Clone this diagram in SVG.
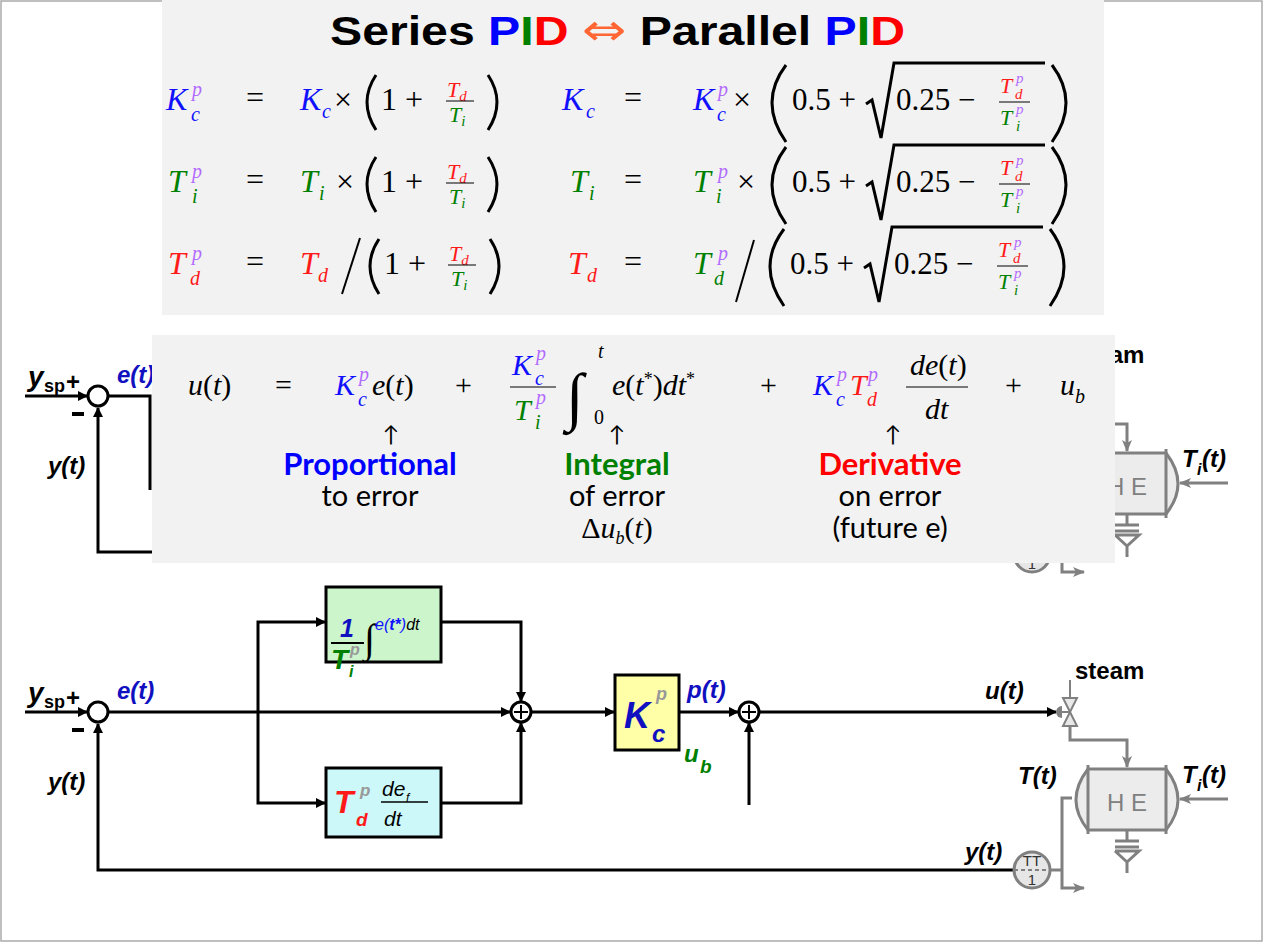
<svg xmlns="http://www.w3.org/2000/svg" width="1266" height="944" viewBox="0 0 1266 944">
<style>
.lbl{font-family:"Liberation Sans",Arial,sans-serif;font-weight:bold;font-style:italic}
.m{font-family:"Liberation Serif","DejaVu Serif",serif;font-style:italic}
.mr{font-family:"Liberation Serif","DejaVu Serif",serif}
.s{font-family:"Liberation Serif","DejaVu Serif",serif;font-style:italic}
.fs{font-family:"Liberation Serif","DejaVu Serif",serif;font-style:italic}
.ln{stroke:#000;stroke-width:3;fill:none}
.gr{stroke:#808080;stroke-width:3;fill:none}
.sans{font-family:"Lato","Liberation Sans",sans-serif;text-anchor:middle}
.b{fill:#1010ff}.g{fill:#008000}.r{fill:#ff1a1a}.v{fill:#b36bff}
</style>
<defs>
<marker id="ah" markerWidth="10" markerHeight="10" refX="9" refY="5" orient="auto" markerUnits="userSpaceOnUse"><path d="M0,0 L10,5 L0,10 z" fill="#000"/></marker>
<marker id="ag" markerWidth="12" markerHeight="10" refX="11" refY="5" orient="auto" markerUnits="userSpaceOnUse"><path d="M0,0 L12,5 L0,10 L3,5 z" fill="#808080"/></marker>
<g id="process">
<line x1="1070" y1="680" x2="1070" y2="698" stroke="#808080" stroke-width="2"/>
<path d="M1063,698 L1077,698 L1070,712 z M1063,726 L1077,726 L1070,712 z" fill="#e8e8e8" stroke="#808080" stroke-width="2"/>
<path d="M1062,706 A6,6 0 0 0 1062,718 z" fill="#808080"/>
<line x1="1062" y1="712" x2="1070" y2="712" stroke="#808080" stroke-width="2"/>
<path d="M1070,726 L1070,740 L1127,740 L1127,767" class="gr" marker-end="url(#ag)"/>
<path d="M1088,769 L1166,769 Q1190,800 1166,830 L1088,830 Q1064,800 1088,769 z" fill="#ececec" stroke="#808080" stroke-width="3"/>
<line x1="1088" y1="765" x2="1088" y2="834" class="gr"/>
<line x1="1166" y1="765" x2="1166" y2="834" class="gr"/>
<text x="1127" y="811" font-family="Liberation Sans,sans-serif" font-size="24" fill="#808080" text-anchor="middle">H E</text>
<line x1="1228" y1="799" x2="1180" y2="799" class="gr" marker-end="url(#ag)"/>
<path d="M1127,830 L1127,841 M1115,841 L1139,841 M1115,847 L1139,847 M1115,851 L1139,851 L1127,862 L1115,851 M1127,862 L1127,873" class="gr" stroke-width="2.5"/>
<path d="M1072,798 L1062,798 L1062,888 L1084,888" class="gr" stroke-width="2.5" marker-end="url(#ag)"/>
<circle cx="1032" cy="870" r="18" fill="#e6e6e6" stroke="#808080" stroke-width="3"/>
<line x1="1014" y1="870" x2="1050" y2="870" stroke="#808080" stroke-width="2" stroke-dasharray="4,3"/>
<line x1="1050" y1="870" x2="1062" y2="870" class="gr" stroke-width="2.5"/>
<text x="1032" y="866" font-family="Liberation Sans,sans-serif" font-size="15" text-anchor="middle" fill="#333">TT</text>
<text x="1032" y="885" font-family="Liberation Sans,sans-serif" font-size="15" text-anchor="middle" fill="#333">1</text>
<text x="1075" y="679" font-family="Liberation Sans,sans-serif" font-weight="bold" font-size="24">steam</text>
<text x="1018" y="784" class="lbl" style="font-size:24px">T(t)</text>
<text x="1182" y="783" class="lbl" style="font-size:24px">T</text><text x="1197" y="791" class="lbl" style="font-size:16px">i</text><text x="1202" y="783" class="lbl" style="font-size:24px">(t)</text>
</g>
</defs>
<rect x="1" y="1" width="1261" height="940" fill="#fff" stroke="#aaa" stroke-width="1.5"/>

<g id="series-bg">
<use href="#process" transform="translate(0,-316)"/>
<text x="28" y="386" class="lbl" style="font-size:28px">y</text><text x="44" y="392" font-family="Liberation Sans,sans-serif" font-weight="bold" font-size="18">sp</text>
<text x="66" y="390" font-family="Liberation Sans,sans-serif" font-weight="bold" font-size="24">+</text>
<rect x="72" y="412" width="12" height="4" fill="#000"/>
<text x="117" y="383" class="lbl" style="font-size:24px" fill="#1010c0">e(t)</text>
<text x="48" y="474" class="lbl" style="font-size:24px">y(t)</text>
<circle cx="98" cy="396" r="10" fill="#fff" stroke="#000" stroke-width="3"/>
<g class="connectors">
<line x1="25" y1="396" x2="87" y2="396" class="ln" marker-end="url(#ah)"/>
<path d="M108,396 L150,396 L150,490" class="ln"/>
<path d="M160,552 L98,552 L98,408" class="ln" marker-end="url(#ah)"/>
</g>
</g>

<g id="connectors">
<line x1="25" y1="712" x2="87" y2="712" class="ln" marker-end="url(#ah)"/>
<line x1="108" y1="712" x2="510" y2="712" class="ln" marker-end="url(#ah)"/>
<path d="M258,712 L258,622 L325,622" class="ln" marker-end="url(#ah)"/>
<path d="M258,712 L258,803 L325,803" class="ln" marker-end="url(#ah)"/>
<path d="M441,622 L521,622 L521,701" class="ln" marker-end="url(#ah)"/>
<path d="M441,803 L521,803 L521,723" class="ln" marker-end="url(#ah)"/>
<line x1="531" y1="712" x2="614" y2="712" class="ln" marker-end="url(#ah)"/>
<line x1="679" y1="712" x2="738" y2="712" class="ln" marker-end="url(#ah)"/>
<line x1="749" y1="805" x2="749" y2="723" class="ln" marker-end="url(#ah)"/>
<line x1="759" y1="712" x2="1056" y2="712" class="ln" marker-end="url(#ah)"/>
<path d="M1014,870 L98,870 L98,724" class="ln" marker-end="url(#ah)"/>
</g>
<use href="#process"/>
<g id="sum1"><circle cx="98" cy="712" r="10" fill="#fff" stroke="#000" stroke-width="3"/></g>
<g id="sum2"><circle cx="521" cy="712" r="10" fill="#fff" stroke="#000" stroke-width="3"/><path d="M514,712 H528 M521,705 V719" stroke="#000" stroke-width="2"/></g>
<g id="sum3"><circle cx="749" cy="712" r="10" fill="#fff" stroke="#000" stroke-width="3"/><path d="M742,712 H756 M749,705 V719" stroke="#000" stroke-width="2"/></g>
<text x="28" y="702" class="lbl" style="font-size:28px">y</text><text x="44" y="708" font-family="Liberation Sans,sans-serif" font-weight="bold" font-size="18">sp</text>
<text x="66" y="706" font-family="Liberation Sans,sans-serif" font-weight="bold" font-size="24">+</text>
<rect x="72" y="728" width="12" height="4" fill="#000"/>
<text x="117" y="699" class="lbl" style="font-size:24px" fill="#1010c0">e(t)</text>
<text x="48" y="790" class="lbl" style="font-size:24px">y(t)</text>
<text x="965" y="860" class="lbl" style="font-size:24px">y(t)</text>
<text x="985" y="699" class="lbl" style="font-size:24px">u(t)</text>
<text x="687" y="698" class="lbl" style="font-size:24px" fill="#1010c0">p(t)</text>
<text x="684" y="762" class="lbl" style="font-size:24px" fill="#008000">u</text><text x="700" y="773" class="lbl" style="font-size:19px" fill="#008000">b</text>

<g id="integral-block">
<rect x="326" y="587" width="115" height="75" fill="#ccf5cc" stroke="#000" stroke-width="3"/>
<text x="340" y="637" class="lbl" style="font-size:25px" fill="#1010c0">1</text>
<line x1="331" y1="643" x2="364" y2="643" stroke="#000" stroke-width="2"/>
<text x="331" y="669" class="lbl" style="font-size:28px" fill="#008000">T</text>
<text x="350" y="655" class="lbl" style="font-size:16px" fill="#999">p</text>
<text x="349" y="677" class="lbl" style="font-size:16px" fill="#008000">i</text>
<text x="364" y="652" class="m" style="font-size:40px">∫</text>
<text x="375" y="630" font-family="Liberation Sans,sans-serif" font-style="italic" font-size="16" fill="#1010ff">e(<tspan font-weight="bold">t*</tspan>)<tspan fill="#000">dt</tspan></text>
</g>
<g id="derivative-block">
<rect x="326" y="768" width="115" height="69" fill="#ccf8fa" stroke="#000" stroke-width="3"/>
<text x="334" y="813" class="lbl" style="font-size:32px" fill="#ff1a1a">T</text>
<text x="360" y="796" class="lbl" style="font-size:17px" fill="#999">p</text>
<text x="356" y="826" class="lbl" style="font-size:19px" fill="#ff1a1a">d</text>
<text x="382" y="796" font-family="Liberation Sans,sans-serif" font-style="italic" font-size="21">de</text>
<text x="406" y="802" font-family="Liberation Sans,sans-serif" font-style="italic" font-size="12">f</text>
<line x1="381" y1="802" x2="428" y2="802" stroke="#000" stroke-width="1.5"/>
<text x="384" y="826" font-family="Liberation Sans,sans-serif" font-style="italic" font-size="21">dt</text>
</g>
<g id="kc-block">
<rect x="615" y="675" width="64" height="75" fill="#ffffa8" stroke="#000" stroke-width="3"/>
<text x="624" y="728" class="lbl" style="font-size:36px" fill="#1010c0">K</text>
<text x="656" y="700" class="lbl" style="font-size:18px" fill="#999">p</text>
<text x="652" y="742" class="lbl" style="font-size:24px" fill="#1010c0">c</text>
</g>

<g id="conversion-panel">
<rect x="162" y="0" width="942" height="315" fill="#f2f2f2"/>
<text x="330" y="45" textLength="575" lengthAdjust="spacingAndGlyphs" font-family="Liberation Sans,sans-serif" font-weight="bold" font-size="40">Series <tspan fill="#0000ff">P</tspan><tspan fill="#008000">I</tspan><tspan fill="#ff0000">D</tspan> <tspan fill="#ff6633" font-weight="normal" font-family="DejaVu Sans,sans-serif" font-size="44">⇔</tspan> Parallel <tspan fill="#0000ff">P</tspan><tspan fill="#008000">I</tspan><tspan fill="#ff0000">D</tspan></text>
<g style="font-size:32px">
<text x="166" y="110" class="m b">K</text><text x="191" y="121" class="s b" style="font-size:20px">c</text><text x="192" y="96" class="s v" style="font-size:20px">p</text>
<text x="168" y="192" class="m g">T</text><text x="192" y="203" class="s g" style="font-size:20px">i</text><text x="192" y="178" class="s v" style="font-size:20px">p</text>
<text x="168" y="274" class="m r">T</text><text x="190" y="285" class="s r" style="font-size:20px">d</text><text x="192" y="260" class="s v" style="font-size:20px">p</text>
<text x="246" y="108" class="mr">=</text><text x="246" y="190" class="mr">=</text><text x="246" y="272" class="mr">=</text>
<text x="300" y="110" class="m b">K</text><text x="322" y="118" class="s b" style="font-size:20px">c</text><text x="334" y="110" class="mr">×</text>
<text x="300" y="192" class="m g">T</text><text x="319" y="200" class="s g" style="font-size:20px">i</text><text x="336" y="192" class="mr">×</text>
<text x="300" y="274" class="m r">T</text><text x="318" y="282" class="s r" style="font-size:20px">d</text>
<path d="M342,294 L360,238" stroke="#000" stroke-width="2"/>
<path d="M376,75 Q358,102 376,130 M488,75 Q506,102 488,130" class="ln" stroke-width="2"/>
<path d="M376,157 Q358,184 376,212 M488,157 Q506,184 488,212" class="ln" stroke-width="2"/>
<path d="M379,239 Q361,266 379,294 M490,239 Q508,266 490,294" class="ln" stroke-width="2"/>
<text x="381" y="110" class="mr">1 +</text><text x="381" y="192" class="mr">1 +</text><text x="384" y="274" class="mr">1 +</text>
<g><text x="447" y="97" class="fs r" style="font-size:22px">T<tspan style="font-size:15px" dy="4">d</tspan></text><line x1="446" y1="101" x2="474" y2="101" stroke="#000" stroke-width="1"/><text x="449" y="122" class="fs g" style="font-size:22px">T<tspan style="font-size:15px" dy="4">i</tspan></text></g>
<g><text x="447" y="179" class="fs r" style="font-size:22px">T<tspan style="font-size:15px" dy="4">d</tspan></text><line x1="446" y1="183" x2="474" y2="183" stroke="#000" stroke-width="1"/><text x="449" y="204" class="fs g" style="font-size:22px">T<tspan style="font-size:15px" dy="4">i</tspan></text></g>
<g><text x="449" y="261" class="fs r" style="font-size:22px">T<tspan style="font-size:15px" dy="4">d</tspan></text><line x1="448" y1="265" x2="476" y2="265" stroke="#000" stroke-width="1"/><text x="451" y="286" class="fs g" style="font-size:22px">T<tspan style="font-size:15px" dy="4">i</tspan></text></g>

<text x="562" y="110" class="m b">K</text><text x="586" y="118" class="s b" style="font-size:20px">c</text>
<text x="570" y="192" class="m g">T</text><text x="589" y="200" class="s g" style="font-size:20px">i</text>
<text x="568" y="274" class="m r">T</text><text x="587" y="282" class="s r" style="font-size:20px">d</text>
<text x="624" y="108" class="mr">=</text><text x="624" y="190" class="mr">=</text><text x="624" y="272" class="mr">=</text>
<text x="693" y="110" class="m b">K</text><text x="717" y="121" class="s b" style="font-size:20px">c</text><text x="718" y="96" class="s v" style="font-size:20px">p</text><text x="733" y="110" class="mr">×</text>
<text x="693" y="192" class="m g">T</text><text x="716" y="203" class="s g" style="font-size:20px">i</text><text x="718" y="178" class="s v" style="font-size:20px">p</text><text x="737" y="192" class="mr">×</text>
<text x="693" y="274" class="m g">T</text><text x="714" y="285" class="s g" style="font-size:20px">d</text><text x="718" y="260" class="s v" style="font-size:20px">p</text>
<path d="M736,302 L754,240" stroke="#000" stroke-width="2"/>
<path d="M786,65 Q758,102 786,142 M1052,65 Q1080,102 1052,142" class="ln" stroke-width="2.5"/>
<path d="M786,147 Q758,184 786,224 M1052,147 Q1080,184 1052,224" class="ln" stroke-width="2.5"/>
<path d="M784,229 Q756,266 784,306 M1050,229 Q1078,266 1050,306" class="ln" stroke-width="2.5"/>
<text x="792" y="110" class="mr" style="font-size:31px">0.5 +</text><text x="792" y="192" class="mr" style="font-size:31px">0.5 +</text><text x="790" y="274" class="mr" style="font-size:31px">0.5 +</text>
<path d="M866,104 L872,100 L881,138 L894,63 L1045,63" class="ln" stroke-width="1.8"/>
<path d="M866,186 L872,182 L881,220 L894,145 L1045,145" class="ln" stroke-width="1.8"/>
<path d="M864,268 L870,264 L879,302 L892,227 L1043,227" class="ln" stroke-width="1.8"/>
<text x="896" y="110" class="mr" style="font-size:31px">0.25 −</text><text x="896" y="192" class="mr" style="font-size:31px">0.25 −</text><text x="894" y="274" class="mr" style="font-size:31px">0.25 −</text>
<g style="font-size:22px"><text x="1000" y="93" class="fs r">T</text><text x="1016" y="83" style="font-size:15px" class="s v">p</text><text x="1015" y="99" style="font-size:15px" class="s r">d</text><line x1="999" y1="102" x2="1030" y2="102" stroke="#000"/><text x="1000" y="125" class="fs g">T</text><text x="1016" y="114" style="font-size:15px" class="s v">p</text><text x="1016" y="131" style="font-size:15px" class="s g">i</text></g>
<g style="font-size:22px"><text x="1000" y="175" class="fs r">T</text><text x="1016" y="165" style="font-size:15px" class="s v">p</text><text x="1015" y="181" style="font-size:15px" class="s r">d</text><line x1="999" y1="184" x2="1030" y2="184" stroke="#000"/><text x="1000" y="207" class="fs g">T</text><text x="1016" y="196" style="font-size:15px" class="s v">p</text><text x="1016" y="213" style="font-size:15px" class="s g">i</text></g>
<g style="font-size:22px"><text x="998" y="257" class="fs r">T</text><text x="1014" y="247" style="font-size:15px" class="s v">p</text><text x="1013" y="263" style="font-size:15px" class="s r">d</text><line x1="997" y1="266" x2="1028" y2="266" stroke="#000"/><text x="998" y="289" class="fs g">T</text><text x="1014" y="278" style="font-size:15px" class="s v">p</text><text x="1014" y="295" style="font-size:15px" class="s g">i</text></g>
</g>
</g>

<g id="equation-panel" style="font-size:30px">
<rect x="152" y="335" width="963" height="228" fill="#f2f2f2"/>
<text x="188" y="395" class="m">u<tspan font-style="normal">(</tspan>t<tspan font-style="normal">)</tspan></text>
<text x="275" y="395" class="mr">=</text>
<text x="335" y="395" class="m b">K</text><text x="358" y="406" class="s b" style="font-size:20px">c</text><text x="359" y="381" class="s v" style="font-size:20px">p</text>
<text x="372" y="395" class="m">e<tspan font-style="normal">(</tspan>t<tspan font-style="normal">)</tspan></text>
<text x="455" y="395" class="mr">+</text>
<text x="512" y="375" class="m b">K</text><text x="535" y="385" class="s b" style="font-size:20px">c</text><text x="536" y="360" class="s v" style="font-size:20px">p</text>
<line x1="510" y1="387" x2="556" y2="387" stroke="#000" stroke-width="1.2"/>
<text x="514" y="420" class="m g">T</text><text x="535" y="429" class="s g" style="font-size:20px">i</text><text x="536" y="404" class="s v" style="font-size:20px">p</text>
<text x="566" y="418" class="m" style="font-size:64px">∫</text>
<text x="598" y="358" class="s" style="font-size:20px">t</text><text x="594" y="424" class="mr" style="font-size:20px">0</text>
<text x="612" y="395" class="m">e<tspan font-style="normal">(</tspan>t<tspan font-style="normal" style="font-size:18px" dy="-10">*</tspan><tspan font-style="normal" dy="10">)</tspan>dt<tspan font-style="normal" style="font-size:18px" dy="-10">*</tspan></text>
<text x="760" y="395" class="mr">+</text>
<text x="813" y="395" class="m b">K</text><text x="836" y="406" class="s b" style="font-size:20px">c</text><text x="837" y="381" class="s v" style="font-size:20px">p</text>
<text x="850" y="395" class="m r">T</text><text x="867" y="406" class="s r" style="font-size:20px">d</text><text x="868" y="381" class="s v" style="font-size:20px">p</text>
<text x="910" y="375" class="m">de<tspan font-style="normal">(</tspan>t<tspan font-style="normal">)</tspan></text>
<line x1="906" y1="387" x2="968" y2="387" stroke="#000" stroke-width="1.2"/>
<text x="925" y="419" class="m">dt</text>
<text x="1005" y="395" class="mr">+</text>
<text x="1060" y="395" class="m">u</text><text x="1075" y="403" class="s" style="font-size:20px">b</text>
<text x="391" y="442" class="sans" style="font-size:22px">↑</text>
<text x="617" y="442" class="sans" style="font-size:22px">↑</text>
<text x="893" y="442" class="sans" style="font-size:22px">↑</text>
<text x="370" y="475" class="sans" style="font-size:31px" font-weight="bold" fill="#0000ff">Proportional</text>
<text x="370" y="506" class="sans" style="font-size:29px">to error</text>
<text x="617" y="475" class="sans" style="font-size:31px" font-weight="bold" fill="#008000">Integral</text>
<text x="617" y="506" class="sans" style="font-size:29px">of error</text>
<text x="617" y="538" class="mr" text-anchor="middle">Δ<tspan font-style="italic">u</tspan><tspan font-style="italic" style="font-size:18px" dy="6">b</tspan><tspan dy="-6">(</tspan><tspan font-style="italic">t</tspan>)</text>
<text x="890" y="475" class="sans" style="font-size:31px" font-weight="bold" fill="#ff0000">Derivative</text>
<text x="890" y="506" class="sans" style="font-size:29px">on error</text>
<text x="890" y="538" class="sans" style="font-size:29px">(future e)</text>
</g>
</svg>
